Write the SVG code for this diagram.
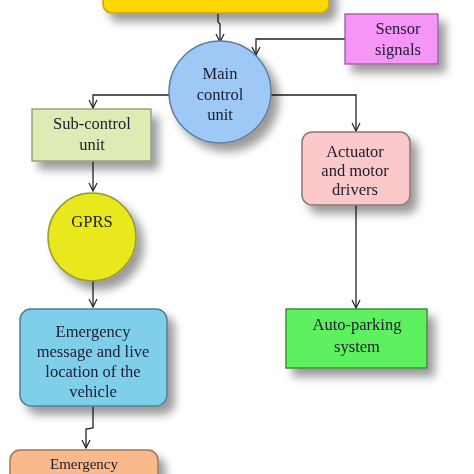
<svg xmlns="http://www.w3.org/2000/svg" width="474" height="474" viewBox="0 0 474 474">
<defs>
<filter id="sh" x="-30%" y="-30%" width="170%" height="170%">
<feGaussianBlur in="SourceAlpha" stdDeviation="5"/>
<feOffset dx="7" dy="8" result="b"/>
<feComponentTransfer><feFuncA type="linear" slope="0.4"/></feComponentTransfer>
<feMerge><feMergeNode/><feMergeNode in="SourceGraphic"/></feMerge>
</filter>
<marker id="ad" viewBox="0 0 10 10" refX="9" refY="5" markerWidth="10" markerHeight="10" markerUnits="userSpaceOnUse" orient="auto">
<path d="M1,1 L9,5 L1,9" fill="none" stroke="#222" stroke-width="1.2"/>
</marker>
</defs>
<style>
text{font-family:"Liberation Serif","Times New Roman",serif;font-size:16.5px;fill:#1c1c30;text-anchor:middle}
.c{fill:none;stroke:#222;stroke-width:1.3;marker-end:url(#ad)}
</style>
<rect width="474" height="474" fill="#ffffff"/>
<g id="connectors">
<path class="c" d="M218,13 L218,22 L220,24 L220,42"/>
<path class="c" d="M345,39 L256,39 L256,55"/>
<path class="c" d="M169,95 L93,95 L93,108"/>
<path class="c" d="M271,95 L356,95 L356,131"/>
<path class="c" d="M93,161 L93,191"/>
<path class="c" d="M93,280 L93,307"/>
<path class="c" d="M356,205 L356,308"/>
<path class="c" d="M93,406 L93,428 L86,429 L86,448"/>
</g>
<g id="node-top" filter="url(#sh)">
<rect x="103" y="-30" width="226" height="43" rx="9" fill="#ffd700" stroke="#c9a300" stroke-width="1.5"/>
</g>
<g id="node-sensor" filter="url(#sh)">
<rect x="345" y="14" width="93" height="50" fill="#f595f5" stroke="#9a5a9a" stroke-width="1.3"/>
<text x="398" y="34">Sensor</text>
<text x="398" y="55">signals</text>
</g>
<g id="node-main" filter="url(#sh)">
<circle cx="220" cy="92" r="51" fill="#9ec9f6" stroke="#5f7d99" stroke-width="1.5"/>
<text x="220" y="79">Main</text>
<text x="220" y="100">control</text>
<text x="220" y="120">unit</text>
</g>
<g id="node-sub" filter="url(#sh)">
<rect x="32" y="109" width="119" height="52" fill="#dcecb4" stroke="#8a9a74" stroke-width="1.3"/>
<text x="92" y="129">Sub-control</text>
<text x="92" y="150">unit</text>
</g>
<g id="node-actuator" filter="url(#sh)">
<rect x="302" y="132" width="108" height="73" rx="10" fill="#fbc9c9" stroke="#8f7474" stroke-width="1.5"/>
<text x="355" y="157">Actuator</text>
<text x="355" y="176">and motor</text>
<text x="355" y="195">drivers</text>
</g>
<g id="node-gprs" filter="url(#sh)">
<circle cx="92" cy="237" r="44" fill="#e8e81a" stroke="#9a9a3a" stroke-width="1.5"/>
<text x="92" y="227">GPRS</text>
</g>
<g id="node-emergency-msg" filter="url(#sh)">
<rect x="20" y="309" width="147" height="97" rx="11" fill="#7fcfea" stroke="#4f7f92" stroke-width="1.5"/>
<text x="93" y="337">Emergency</text>
<text x="93" y="357">message and live</text>
<text x="93" y="377">location of the</text>
<text x="93" y="397">vehicle</text>
</g>
<g id="node-autoparking" filter="url(#sh)">
<rect x="286" y="309" width="141" height="59" fill="#5ef05e" stroke="#3f8f3f" stroke-width="1.5"/>
<text x="357" y="330">Auto-parking</text>
<text x="357" y="352">system</text>
</g>
<g id="node-emergency" filter="url(#sh)">
<rect x="10" y="450" width="148" height="50" rx="10" fill="#f9b98a" stroke="#9a7a5a" stroke-width="1.5"/>
<text x="84" y="469" style="font-size:15px">Emergency</text>
</g>
</svg>
